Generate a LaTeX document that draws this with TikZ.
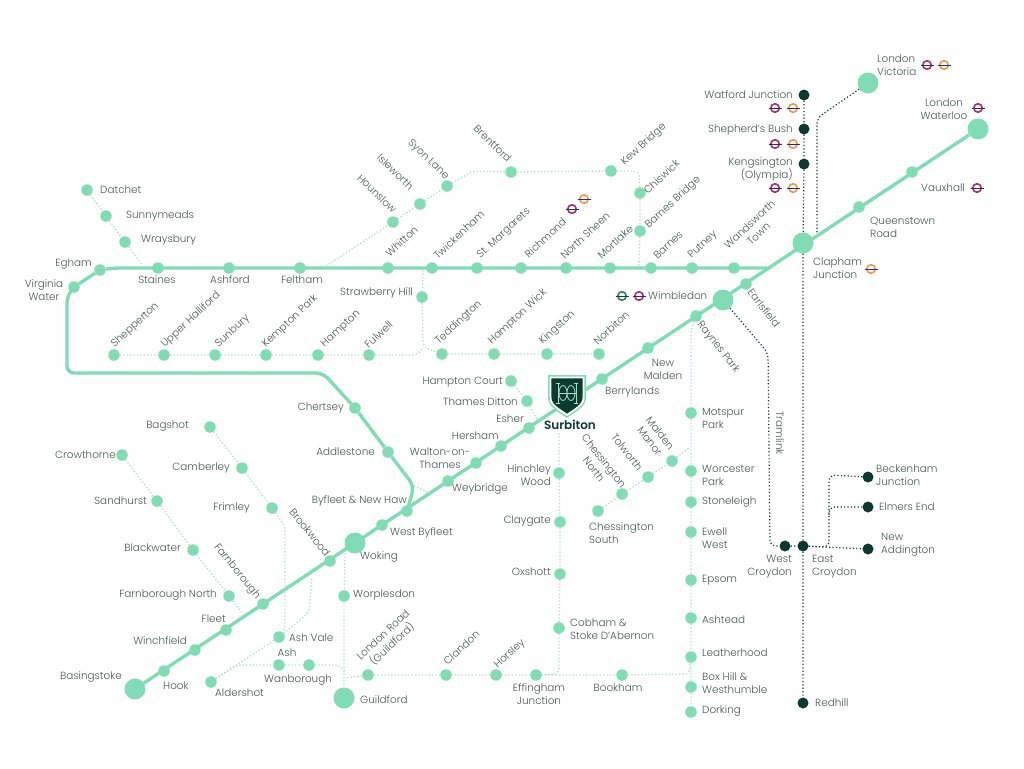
\documentclass[tikz,border=0pt]{standalone}
\usepackage{fontspec}
\setmainfont{Poppins}[UprightFont=* Light, BoldFont=* SemiBold]
\definecolor{railgreen}{HTML}{80DCB4}
\definecolor{paledot}{HTML}{A6E0C6}
\definecolor{darkrail}{HTML}{0C3A2E}
\definecolor{inktext}{HTML}{46574F}
\definecolor{ringred}{HTML}{A8386E}
\definecolor{ringorange}{HTML}{EE9A50}
\definecolor{ringgreen}{HTML}{2E8B57}
\definecolor{barblue}{HTML}{1F2F80}
\tikzset{
    stn/.style={circle, fill=railgreen, inner sep=0, minimum size=11.5},
    hub/.style={circle, fill=railgreen, inner sep=0, minimum size=21},
    dstn/.style={circle, fill=darkrail, inner sep=0, minimum size=11},
    txt/.style={text=inktext, font=\fontsize{10.4}{13}\selectfont, inner sep=0, align=center},
    wtxt/.style={txt, anchor=west, align=left},
    etxt/.style={txt, anchor=east, align=right},
    upl/.style={txt, rotate=43, anchor=west},
    dnl/.style={txt, rotate=-44, anchor=east},
    steep/.style={txt, rotate=-52},
    trunk/.style={railgreen, line width=3.4, rounded corners=7},
    pale/.style={paledot, line width=1.3, dash pattern=on 1.3 off 2.1, rounded corners=6},
    dark/.style={darkrail, line width=1.2, dash pattern=on 1.2 off 2.2, rounded corners=6},
    ring/.style={circle, draw=#1, line width=1.7, inner sep=0, minimum size=8.5},
    bar/.style={barblue, line width=1}
}
\newcommand{\roundel}[4][barblue]{%
    \node[ring=#4] (#2) at (#3) {};
    \draw[bar, #1] ([xshift=-6.5]#2.center) -- ([xshift=6.5]#2.center);
}
\begin{document}
\begin{tikzpicture}[x=1pt, y=-1pt]
    \useasboundingbox (0,0) rectangle (1024,768);

    % main diagonal
    \node[hub] (basingstoke) at (135,689) {};
    \node[stn] (hook) at (164,671) {};
    \node[stn] (winchfield) at (195,650) {};
    \node[stn] (fleet) at (226,630) {};
    \node[stn] (farnborough) at (263,604) {};
    \node[stn] (brookwood) at (330,561) {};
    \node[hub] (woking) at (355,543) {};
    \node[stn] (wbyfleet) at (382,525) {};
    \node[stn] (byfleet) at (407,511) {};
    \node[stn] (weybridge) at (448,481) {};
    \node[stn] (walton) at (476,463) {};
    \node[stn] (hersham) at (501,446) {};
    \node[stn] (esher) at (529,428) {};
    \node[stn] (berrylands) at (602,379) {};
    \node[stn] (nmalden) at (648,348) {};
    \node[stn] (raynes) at (696,316) {};
    \node[hub] (wimbledon) at (723,300) {};
    \node[stn] (earlsfield) at (746,284) {};
    \node[hub] (clapham) at (803,243) {};
    \node[stn] (queenstown) at (859,207) {};
    \node[stn] (vauxhall) at (912,172) {};
    \node[hub] (waterloo) at (978,129) {};
    \draw[trunk] (basingstoke) -- (waterloo);

    % upper line
    \node[stn] (vwater) at (74,287) {};
    \node[stn] (egham) at (100,270) {};
    \node[stn] (staines) at (158,268) {};
    \node[stn] (ashford) at (229,268) {};
    \node[stn] (feltham) at (300,268) {};
    \node[stn] (whitton) at (388,268) {};
    \node[stn] (twickenham) at (432,268) {};
    \node[stn] (margarets) at (477,268) {};
    \node[stn] (richmond) at (521,268) {};
    \node[stn] (nsheen) at (566,268) {};
    \node[stn] (mortlake) at (610,268) {};
    \node[stn] (barnes) at (651,268) {};
    \node[stn] (putney) at (692,268) {};
    \node[stn] (wandsworth) at (734,268) {};
    \coordinate (wjoin) at (767,268);
    \draw[trunk] (vwater) -- (egham) -- (113,268) -- (wjoin);

    % chertsey line
    \node[stn] (chertsey) at (355,408) {};
    \node[stn] (addlestone) at (388,452) {};
    \draw[trunk] (vwater) -- (67,296) -- (67,373) -- (323,373) -- (chertsey) -- (addlestone) -- (414,486) -- (byfleet);

    % loop lines
    \node[stn] (datchet) at (87,190) {};
    \node[stn] (sunnymeads) at (106,216) {};
    \node[stn] (wraysbury) at (125,242) {};
    \coordinate (wrayjoin) at (143,266);
    \draw[pale] (datchet) -- (sunnymeads) -- (wraysbury) -- (wrayjoin);

    \node[stn] (hounslow) at (393,222) {};
    \node[stn] (isleworth) at (420,204) {};
    \node[stn] (syon) at (447,186) {};
    \node[stn] (brentford) at (511,172) {};
    \node[stn] (kew) at (611,171) {};
    \node[stn] (chiswick) at (640,193) {};
    \node[stn] (bbridge) at (640,231) {};
    \coordinate (houjoin) at (326,266);
    \coordinate (kewjoin) at (639,266);
    \draw[pale] (houjoin) -- (hounslow) -- (isleworth) -- (syon) -- (473,171) -- (brentford) -- (kew) -- (639,171) -- (chiswick) -- (bbridge) -- (kewjoin);

    \node[stn] (shepperton) at (114,355) {};
    \node[stn] (halliford) at (164,355) {};
    \node[stn] (sunbury) at (215,355) {};
    \node[stn] (kempton) at (266,355) {};
    \node[stn] (hampton) at (318,355) {};
    \node[stn] (fulwell) at (369,355) {};
    \node[stn] (teddington) at (442,354) {};
    \node[stn] (hwick) at (494,354) {};
    \node[stn] (kingston) at (547,354) {};
    \node[stn] (norbiton) at (599,354) {};
    \node[stn] (strawberry) at (422,297) {};
    \coordinate (strawjoin) at (423,270);
    \coordinate (teddjoin) at (423,347);
    \draw[pale] (shepperton) -- (halliford) -- (sunbury) -- (kempton) -- (hampton) -- (fulwell) -- (418,355) -- (teddjoin);
    \draw[pale] (strawjoin) -- (strawberry) -- (teddjoin) -- (teddington) -- (hwick) -- (kingston) -- (norbiton);

    \node[stn] (hcourt) at (511,381) {};
    \node[stn] (tditton) at (527,401) {};
    \coordinate (dittonjoin) at (538,421);
    \draw[pale] (hcourt) -- (tditton) -- (dittonjoin);

    % surbiton to guildford
    \coordinate (surbout) at (559,433);
    \node[stn] (hinchley) at (559,473) {};
    \node[stn] (claygate) at (560,522) {};
    \node[stn] (oxshott) at (560,574) {};
    \node[stn] (cobham) at (559,628) {};
    \node[stn] (effingham) at (536,675) {};
    \node[stn] (bookham) at (622,675) {};
    \node[stn] (horsley) at (496,675) {};
    \node[stn] (clandon) at (446,675) {};
    \node[stn] (lroad) at (368,675) {};
    \node[hub] (guildford) at (344,698) {};
    \draw[pale] (surbout) -- (hinchley) -- (claygate) -- (oxshott) -- (cobham) -- (559,674) -- (effingham) -- (horsley) -- (clandon) -- (lroad) -- (345,678);
    \draw[pale] (effingham) -- (bookham) -- (690,674) -- (690,660);

    % epsom line
    \node[stn] (motspur) at (691,413) {};
    \node[stn] (worcester) at (691,471) {};
    \node[stn] (stoneleigh) at (691,502) {};
    \node[stn] (ewell) at (691,532) {};
    \node[stn] (epsom) at (691,580) {};
    \node[stn] (ashtead) at (691,618) {};
    \node[stn] (leatherhead) at (691,657) {};
    \node[stn] (boxhill) at (691,687) {};
    \node[stn] (dorking) at (691,712) {};
    \draw[pale] (raynes) -- (691,330) -- (motspur) -- (worcester) -- (stoneleigh) -- (ewell) -- (epsom) -- (ashtead) -- (leatherhead) -- (boxhill) -- (dorking);

    \node[stn] (csouth) at (598,511) {};
    \node[stn] (cnorth) at (622,494) {};
    \node[stn] (tolworth) at (648,477) {};
    \node[stn] (mmanor) at (672,461) {};
    \coordinate (mmjoin) at (690,447);
    \draw[pale] (csouth) -- (cnorth) -- (tolworth) -- (mmanor) -- (mmjoin);

    % ascot branches
    \node[stn] (bagshot) at (210,427) {};
    \node[stn] (camberley) at (242,468) {};
    \node[stn] (frimley) at (272,508) {};
    \node[stn] (crowthorne) at (122,455) {};
    \node[stn] (sandhurst) at (157,501) {};
    \node[stn] (blackwater) at (193,550) {};
    \node[stn] (fnorth) at (229,596) {};
    \node[stn] (ashvale) at (279,637) {};
    \node[stn] (ash) at (279,665) {};
    \node[stn] (wanborough) at (309,665) {};
    \node[stn] (aldershot) at (211,682) {};
    \node[stn] (worplesdon) at (344,596) {};
    \coordinate (fnjoin) at (242,613);
    \coordinate (avjoin) at (312,577);
    \coordinate (wokout) at (345,553);
    \coordinate (guildjoin) at (345,672);
    \draw[pale] (bagshot) -- (camberley) -- (frimley) -- (285,526) -- (285,630) -- (ashvale);
    \draw[pale] (crowthorne) -- (sandhurst) -- (blackwater) -- (fnorth) -- (fnjoin);
    \draw[pale] (aldershot) -- (ashvale) -- (309,613) -- (avjoin);
    \draw[pale] (aldershot) -- (236,665) -- (ash) -- (wanborough) -- (340,665) -- (guildjoin);
    \draw[pale] (wokout) -- (worplesdon) -- (guildford);
    \coordinate (weyjoin) at (432,494);
    \draw[pale] (414,486) -- (weyjoin);

    % dark lines
    \node[dstn] (watford) at (804,95) {};
    \node[dstn] (shepherds) at (804,129) {};
    \node[dstn] (kensington) at (804,164) {};
    \node[dstn] (ecroydon) at (803,546) {};
    \node[dstn] (wcroydon) at (785,546) {};
    \node[dstn] (redhill) at (803,703) {};
    \node[dstn] (beckenham) at (868,477) {};
    \node[dstn] (elmers) at (868,507) {};
    \node[dstn] (naddington) at (868,549) {};
    \node[hub] (victoria) at (868,83) {};
    \coordinate (vicjoin) at (817,234);
    \coordinate (elmjoin) at (829,515);
    \draw[dark] (watford) -- (shepherds) -- (kensington) -- (clapham) -- (ecroydon) -- (redhill);
    \draw[dark] (victoria) -- (817,118) -- (vicjoin);
    \draw[dark] (wimbledon) -- (768,353) -- (770,546) -- (wcroydon) -- (ecroydon) -- (naddington);
    \draw[dark] (ecroydon) -- (829,547) -- (829,475) -- (beckenham);
    \draw[dark] (elmjoin) -- (829,507) -- (elmers);

    % crest
    \begin{scope}[shift={(567,394)}]
        \draw[fill=railgreen, draw=none] (-19,-19) -- (19,-19) -- (19,4) .. controls (19,13) and (8,18) .. (0,24) .. controls (-8,18) and (-19,13) .. (-19,4) -- cycle;
        \draw[fill=white, draw=none, scale=0.92] (-19,-19) -- (19,-19) -- (19,4) .. controls (19,13) and (8,18) .. (0,24) .. controls (-8,18) and (-19,13) .. (-19,4) -- cycle;
        \draw[fill=darkrail, draw=none, scale=0.82] (-19,-19) -- (19,-19) -- (19,4) .. controls (19,13) and (8,18) .. (0,24) .. controls (-8,18) and (-19,13) .. (-19,4) -- cycle;
        \draw[paledot, line width=1] (-9,-11) -- (-9,9) (9,-11) -- (9,9) (-9,-1) -- (9,-1) (-11,-11) -- (-7,-11) (7,-11) -- (11,-11) (-11,9) -- (-7,9) (7,9) -- (11,9);
        \draw[paledot, line width=0.8] (-4,-1) ellipse (4 and 7.5) (4,-1) ellipse (4 and 7.5);
    \end{scope}

    % roundels
    \roundel{rvic}{927,65}{ringred}
    \roundel{ovic}{944,65}{ringorange}
    \roundel{rwat}{978,108}{ringred}
    \roundel{rvau}{977,188}{ringred}
    \roundel{rwfd}{775,108}{ringred}
    \roundel{owfd}{793,108}{ringorange}
    \roundel{rshb}{775,144}{ringred}
    \roundel{oshb}{793,144}{ringorange}
    \roundel{rken}{775,188}{ringred}
    \roundel{oken}{793,188}{ringorange}
    \roundel{rric}{572,209}{ringred}
    \roundel{oric}{584,199}{ringorange}
    \roundel{ocla}{871,269}{ringorange}
    \roundel{gwim}{622,296}{ringgreen}
    \roundel{rwim}{639,296}{ringred}

    % labels
    \node[wtxt] (ldatchet) at (100,190) {Datchet};
    \node[wtxt] (lsunny) at (126,216) {Sunnymeads};
    \node[wtxt] (lwrays) at (141,240) {Wraysbury};
    \node[etxt] (legham) at (92,264) {Egham};
    \node[txt] (lvwater) at (44,290) {Virginia\\Water};
    \node[txt] (lstaines) at (157,280) {Staines};
    \node[txt] (lashford) at (230,280) {Ashford};
    \node[txt] (lfeltham) at (302,280) {Feltham};
    \node[etxt] (lstraw) at (413,293) {Strawberry Hill};
    \node[dnl] (lhounslow) at (395,211) {Hounslow};
    \node[dnl] (lisle) at (412,188) {Isleworth};
    \node[dnl] (lsyon) at (447,178) {Syon Lane};
    \node[dnl] (lbrent) at (510,160) {Brentford};
    \node[upl] (lkew) at (623,164) {Kew Bridge};
    \node[upl] (lchis) at (645,192) {Chiswick};
    \node[upl] (lbb) at (647,227) {Barnes Bridge};
    \node[upl] (lwhitton) at (387,255) {Whitton};
    \node[upl] (ltwick) at (435,257) {Twickenham};
    \node[upl] (lmarg) at (479,257) {St. Margarets};
    \node[upl] (lrich) at (526,256) {Richmond};
    \node[upl] (lsheen) at (562,257) {North Sheen};
    \node[upl] (lmort) at (599,257) {Mortlake};
    \node[upl] (lbarnes) at (655,257) {Barnes};
    \node[upl] (lputney) at (690,257) {Putney};
    \node[txt, rotate=43] (lwand) at (754,229) {Wandsworth\\Town};
    \node[upl] (lshep) at (113,346) {Shepperton};
    \node[upl] (lhall) at (163,346) {Upper Halliford};
    \node[upl] (lsun) at (217,346) {Sunbury};
    \node[upl] (lkemp) at (264,346) {Kempton Park};
    \node[upl] (lhamp) at (323,346) {Hampton};
    \node[upl] (lful) at (366,346) {Fulwell};
    \node[upl] (ltedd) at (437,343) {Teddington};
    \node[upl] (lwick) at (490,343) {Hampton Wick};
    \node[upl] (lking) at (541,343) {Kingston};
    \node[upl] (lnorb) at (595,343) {Norbiton};
    \node[txt, rotate=43] (llroad) at (388,640) {London Road\\(Guildford)};
    \node[upl] (lcland) at (445,663) {Clandon};
    \node[upl] (lhors) at (496,667) {Horsley};

    \node[etxt] (lcourt) at (503,382) {Hampton Court};
    \node[etxt] (lditton) at (518,402) {Thames Ditton};
    \node[etxt] (lesher) at (524,419) {Esher};
    \node[etxt] (lhersham) at (499,436) {Hersham};
    \node[txt] (lwalton) at (440,458) {Walton-on-\\Thames};
    \node[wtxt] (lwey) at (452,489) {Weybridge};
    \node[etxt] (lbyf) at (407,501) {Byfleet \& New Haw};
    \node[wtxt] (lwbyf) at (390,533) {West Byfleet};
    \node[wtxt] (lwok) at (360,557) {Woking};
    \node[etxt] (lchert) at (344,408) {Chertsey};
    \node[etxt] (laddle) at (375,452) {Addlestone};
    \node[etxt] (lbag) at (189,426) {Bagshot};
    \node[etxt] (lcrow) at (116,455) {Crowthorne};
    \node[etxt] (lcamb) at (230,468) {Camberley};
    \node[etxt] (lsand) at (147,501) {Sandhurst};
    \node[etxt] (lfrim) at (250,508) {Frimley};
    \node[etxt] (lblack) at (181,548) {Blackwater};
    \node[etxt] (lfnorth) at (217,595) {Farnborough North};
    \node[etxt] (lfleet) at (226,619) {Fleet};
    \node[etxt] (lwinch) at (187,641) {Winchfield};
    \node[etxt] (lbasing) at (122,677) {Basingstoke};
    \node[wtxt] (lhook) at (163,686) {Hook};
    \node[wtxt] (lalder) at (215,693) {Aldershot};
    \node[wtxt] (lvale) at (289,638) {Ash Vale};
    \node[txt] (lash) at (287,653) {Ash};
    \node[txt] (lwanb) at (298,680) {Wanborough};
    \node[wtxt] (lworp) at (353,595) {Worplesdon};
    \node[wtxt] (lguild) at (360,700) {Guildford};
    \node[txt, rotate=-51, anchor=east] (lbrook) at (328,555) {Brookwood};
    \node[txt, rotate=-51, anchor=east] (lfarn) at (258,598) {Farnborough};

    \node[txt, font=\fontsize{12}{13}\selectfont\bfseries, text=darkrail] (lsurb) at (570,425) {Surbiton};
    \node[wtxt] (lberry) at (605,392) {Berrylands};
    \node[txt] (lmalden) at (663,369) {New\\Malden};
    \node[steep, anchor=west] (lraynes) at (699,323) {Raynes Park};
    \node[steep, anchor=west] (learls) at (750,290) {Earlsfield};
    \node[etxt] (lhinch) at (551,475) {Hinchley\\Wood};
    \node[etxt] (lclay) at (551,521) {Claygate};
    \node[etxt] (loxs) at (551,572) {Oxshott};
    \node[wtxt] (lcob) at (570,629) {Cobham \&\\Stoke D'Abernon};
    \node[txt] (leff) at (539,694) {Effingham\\Junction};
    \node[txt] (lbook) at (618,688) {Bookham};
    \node[steep] (lcnorth) at (599,465) {Chessington\\North};
    \node[steep] (ltol) at (627,452) {Tolworth};
    \node[steep] (lman) at (655,437) {Malden\\Manor};
    \node[wtxt] (lcsouth) at (589,533) {Chessington\\South};
    \node[wtxt] (lmots) at (702,418) {Motspur\\Park};
    \node[wtxt] (lworc) at (702,475) {Worcester\\Park};
    \node[wtxt] (lstone) at (702,502) {Stoneleigh};
    \node[wtxt] (lewell) at (702,538) {Ewell\\West};
    \node[wtxt] (lepsom) at (702,580) {Epsom};
    \node[wtxt] (lasht) at (702,620) {Ashtead};
    \node[wtxt] (lleath) at (702,653) {Leatherhood};
    \node[wtxt] (lbox) at (702,683) {Box Hill \&\\Westhumble};
    \node[wtxt] (ldork) at (702,711) {Dorking};

    \node[etxt] (lwat) at (793,95) {Watford Junction};
    \node[etxt] (lshb) at (793,130) {Shepherd's Bush};
    \node[etxt] (lken) at (793,169) {Kengsington\\(Olympia)};
    \node[wtxt] (lvic) at (877,65) {London\\Victoria};
    \node[txt] (lwloo) at (944,109) {London\\Waterloo};
    \node[wtxt] (lvau) at (921,188) {Vauxhall};
    \node[wtxt] (lqueen) at (870,227) {Queenstown\\Road};
    \node[wtxt] (lclap) at (813,268) {Clapham\\Junction};
    \node[wtxt] (lwimb) at (648,296) {Wimbledon};
    \node[txt, rotate=-90] (ltram) at (780,433) {Tramlink};
    \node[etxt] (lwcr) at (792,567) {West\\Croydon};
    \node[wtxt] (lecr) at (812,567) {East\\Croydon};
    \node[wtxt] (lred) at (815,703) {Redhill};
    \node[wtxt] (lbeck) at (876,475) {Beckenham\\Junction};
    \node[wtxt] (lelm) at (879,507) {Elmers End};
    \node[wtxt] (lnew) at (881,545) {New\\Addington};
\end{tikzpicture}
\end{document}
